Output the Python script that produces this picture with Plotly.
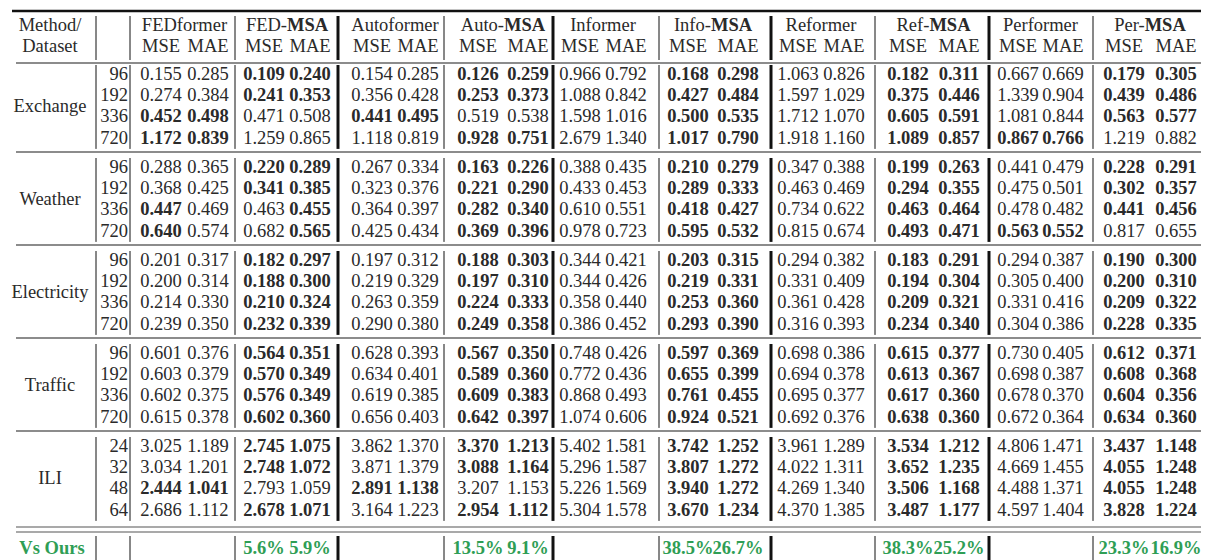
import plotly.graph_objects as go

datasets = ["Exchange", "Weather", "Electricity", "Traffic", "ILI"]
horizons = [[96, 192, 336, 720], [96, 192, 336, 720], [96, 192, 336, 720],
            [96, 192, 336, 720], [24, 32, 48, 64]]
base_names = ["FEDformer", "Autoformer", "Informer", "Reformer", "Performer"]
msa_prefix = ["FED", "Auto", "Info", "Ref", "Per"]

fed_mse = [0.155, 0.274, 0.452, 1.172, 0.288, 0.368, 0.447, 0.640, 0.201, 0.200, 0.214, 0.239, 0.601, 0.603, 0.602, 0.615, 3.025, 3.034, 2.444, 2.686]
fed_mae = [0.285, 0.384, 0.498, 0.839, 0.365, 0.425, 0.469, 0.574, 0.317, 0.314, 0.330, 0.350, 0.376, 0.379, 0.375, 0.378, 1.189, 1.201, 1.041, 1.112]
fedmsa_mse = [0.109, 0.241, 0.471, 1.259, 0.220, 0.341, 0.463, 0.682, 0.182, 0.188, 0.210, 0.232, 0.564, 0.570, 0.576, 0.602, 2.745, 2.748, 2.793, 2.678]
fedmsa_mae = [0.240, 0.353, 0.508, 0.865, 0.289, 0.385, 0.455, 0.565, 0.297, 0.300, 0.324, 0.339, 0.351, 0.349, 0.349, 0.360, 1.075, 1.072, 1.059, 1.071]
auto_mse = [0.154, 0.356, 0.441, 1.118, 0.267, 0.323, 0.364, 0.425, 0.197, 0.219, 0.263, 0.290, 0.628, 0.634, 0.619, 0.656, 3.862, 3.871, 2.891, 3.164]
auto_mae = [0.285, 0.428, 0.495, 0.819, 0.334, 0.376, 0.397, 0.434, 0.312, 0.329, 0.359, 0.380, 0.393, 0.401, 0.385, 0.403, 1.370, 1.379, 1.138, 1.223]
automsa_mse = [0.126, 0.253, 0.519, 0.928, 0.163, 0.221, 0.282, 0.369, 0.188, 0.197, 0.224, 0.249, 0.567, 0.589, 0.609, 0.642, 3.370, 3.088, 3.207, 2.954]
automsa_mae = [0.259, 0.373, 0.538, 0.751, 0.226, 0.290, 0.340, 0.396, 0.303, 0.310, 0.333, 0.358, 0.350, 0.360, 0.383, 0.397, 1.213, 1.164, 1.153, 1.112]
info_mse = [0.966, 1.088, 1.598, 2.679, 0.388, 0.433, 0.610, 0.978, 0.344, 0.344, 0.358, 0.386, 0.748, 0.772, 0.868, 1.074, 5.402, 5.296, 5.226, 5.304]
info_mae = [0.792, 0.842, 1.016, 1.340, 0.435, 0.453, 0.551, 0.723, 0.421, 0.426, 0.440, 0.452, 0.426, 0.436, 0.493, 0.606, 1.581, 1.587, 1.569, 1.578]
infomsa_mse = [0.168, 0.427, 0.500, 1.017, 0.210, 0.289, 0.418, 0.595, 0.203, 0.219, 0.253, 0.293, 0.597, 0.655, 0.761, 0.924, 3.742, 3.807, 3.940, 3.670]
infomsa_mae = [0.298, 0.484, 0.535, 0.790, 0.279, 0.333, 0.427, 0.532, 0.315, 0.331, 0.360, 0.390, 0.369, 0.399, 0.455, 0.521, 1.252, 1.272, 1.272, 1.234]
ref_mse = [1.063, 1.597, 1.712, 1.918, 0.347, 0.463, 0.734, 0.815, 0.294, 0.331, 0.361, 0.316, 0.698, 0.694, 0.695, 0.692, 3.961, 4.022, 4.269, 4.370]
ref_mae = [0.826, 1.029, 1.070, 1.160, 0.388, 0.469, 0.622, 0.674, 0.382, 0.409, 0.428, 0.393, 0.386, 0.378, 0.377, 0.376, 1.289, 1.311, 1.340, 1.385]
refmsa_mse = [0.182, 0.375, 0.605, 1.089, 0.199, 0.294, 0.463, 0.493, 0.183, 0.194, 0.209, 0.234, 0.615, 0.613, 0.617, 0.638, 3.534, 3.652, 3.506, 3.487]
refmsa_mae = [0.311, 0.446, 0.591, 0.857, 0.263, 0.355, 0.464, 0.471, 0.291, 0.304, 0.321, 0.340, 0.377, 0.367, 0.360, 0.360, 1.212, 1.235, 1.168, 1.177]
per_mse = [0.667, 1.339, 1.081, 0.867, 0.441, 0.475, 0.478, 0.563, 0.294, 0.305, 0.331, 0.304, 0.730, 0.698, 0.678, 0.672, 4.806, 4.669, 4.488, 4.597]
per_mae = [0.669, 0.904, 0.844, 0.766, 0.479, 0.501, 0.482, 0.552, 0.387, 0.400, 0.416, 0.386, 0.405, 0.387, 0.370, 0.364, 1.471, 1.455, 1.371, 1.404]
permsa_mse = [0.179, 0.439, 0.563, 1.219, 0.228, 0.302, 0.441, 0.817, 0.190, 0.200, 0.209, 0.228, 0.612, 0.608, 0.604, 0.634, 3.437, 4.055, 4.055, 3.828]
permsa_mae = [0.305, 0.486, 0.577, 0.882, 0.291, 0.357, 0.456, 0.655, 0.300, 0.310, 0.322, 0.335, 0.371, 0.368, 0.356, 0.360, 1.148, 1.248, 1.248, 1.224]
vs_ours_mse = ["5.6%", "13.5%", "38.5%", "38.3%", "23.3%"]
vs_ours_mae = ["5.9%", "9.1%", "26.7%", "25.2%", "16.9%"]

pairs = [
    (fed_mse, fed_mae, fedmsa_mse, fedmsa_mae),
    (auto_mse, auto_mae, automsa_mse, automsa_mae),
    (info_mse, info_mae, infomsa_mse, infomsa_mae),
    (ref_mse, ref_mae, refmsa_mse, refmsa_mae),
    (per_mse, per_mae, permsa_mse, permsa_mae),
]

# ---- layout geometry (pixels) ----
W, H = 1209, 560
col_x = [153, 200, 256, 302, 364, 410, 470, 520, 572, 618,
         680, 730, 790, 836, 900, 951, 1010, 1055, 1116, 1168]
vlines = [(88, 1), (122, 1), (227, 1), (330, 3), (436, 1), (545, 3),
          (651, 1), (763, 3), (867, 1), (981, 3), (1085, 1)]
row0, block_step, row_step = 67, 93, 21.3
FONT = "Liberation Serif, Times New Roman, serif"
FS = 18.5
GRAY = "#2a2a2a"
GREEN = "#2f9e55"

def row_y(b, i):
    return row0 + b * block_step + i * row_step

xs, ys, ts, ps = [], [], [], []
def add(x, y, t, p="middle center"):
    xs.append(x); ys.append(y); ts.append(t); ps.append(p)

add(42, 18, "Method/"); add(42, 39, "Dataset")
for m in range(5):
    xa, xb, xc, xd = col_x[4 * m:4 * m + 4]
    add((xa + xb) / 2, 18, base_names[m])
    add((xc + xd) / 2, 18, msa_prefix[m] + "-<b>MSA</b>")
    for k, xx in enumerate((xa, xb, xc, xd)):
        add(xx, 39, "MSE" if k % 2 == 0 else "MAE")

for b, ds in enumerate(datasets):
    add(42, row_y(b, 1.5), ds)
    for i, h in enumerate(horizons[b]):
        add(120, row_y(b, i), str(h), "middle left")

for m, (bm, ba, mm, ma) in enumerate(pairs):
    for r in range(20):
        b, i = divmod(r, 4)
        y = row_y(b, i)
        for k, (base, msa) in enumerate(((bm, mm), (ba, ma))):
            msa_bold = msa[r] <= base[r]
            tb = f"{base[r]:.3f}"
            tm = f"{msa[r]:.3f}"
            add(col_x[4 * m + k], y, tb if msa_bold else f"<b>{tb}</b>")
            add(col_x[4 * m + 2 + k], y, f"<b>{tm}</b>" if msa_bold else tm)

fig = go.Figure()
fig.add_trace(go.Scatter(x=xs, y=ys, text=ts, mode="text", textposition=ps, hoverinfo="skip",
                         textfont=dict(family=FONT, size=FS, color=GRAY)))

vy = 541
gx, gy, gt = [44], [vy], ["<b>Vs Ours</b>"]
for m in range(5):
    gx += [col_x[4 * m + 2], col_x[4 * m + 3]]
    gy += [vy, vy]
    gt += ["<b>" + vs_ours_mse[m] + "</b>", "<b>" + vs_ours_mae[m] + "</b>"]
fig.add_trace(go.Scatter(x=gx, y=gy, text=gt, mode="text", hoverinfo="skip",
                         textfont=dict(family=FONT, size=FS, color=GREEN)))

shapes = []
def hline(y, w, c, x0=4, x1=1200):
    shapes.append(dict(type="line", x0=x0, x1=x1, y0=y, y1=y, line=dict(color=c, width=w)))
hline(3, 2.5, "#111")
hline(55, 1.5, "#666", 8, 1196)
for b in range(4):
    hline(row_y(b, 3) + 13, 1.5, "#666", 8, 1196)
hline(519, 1.2, "#555", 8, 1196)
hline(524, 1.2, "#555", 8, 1196)
hline(557, 2.5, "#111")

segments = [(8, 52)] + [(row_y(b, 0) - 10, row_y(b, 3) + 10) for b in range(5)] + [(528, 553)]
for (x, w) in vlines:
    for (a, c) in segments:
        shapes.append(dict(type="line", x0=x, x1=x, y0=a, y1=c, line=dict(color="#111", width=w)))

fig.update_layout(
    width=W, height=H, margin=dict(l=0, r=0, t=0, b=0),
    paper_bgcolor="white", plot_bgcolor="white", showlegend=False,
    xaxis=dict(range=[0, W], visible=False, fixedrange=True),
    yaxis=dict(range=[H, 0], visible=False, fixedrange=True),
    shapes=shapes,
)
fig.write_html("out.html", config={"displayModeBar": False})
